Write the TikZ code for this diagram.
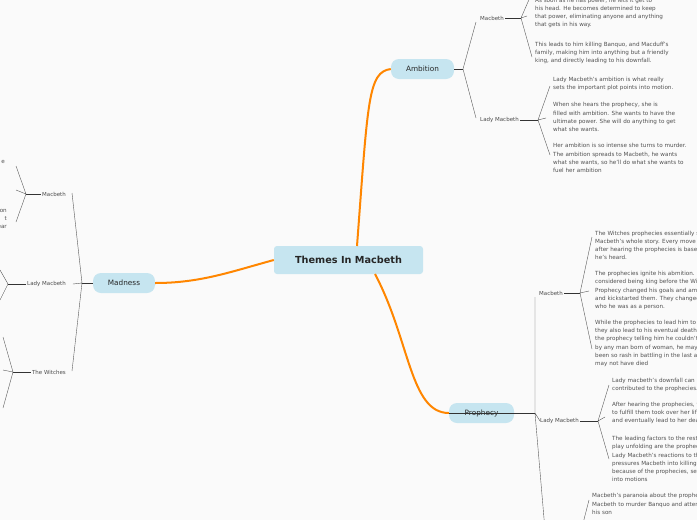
\documentclass[tikz,border=0pt]{standalone}
\usepackage{fontspec}
\setmainfont{DejaVu Sans}
\begin{document}
\begin{tikzpicture}[x=1pt,y=-1pt,
  topic/.style={fill=topicblue,rounded corners=8pt,minimum height=20pt,inner xsep=8pt,font=\fontsize{7.3}{8}\selectfont,text=black!85},
  sub/.style={font=\fontsize{5.5}{6}\selectfont,text=black!70,inner sep=1pt},
  txt/.style={font=\fontsize{5.65}{8.2}\selectfont,text=black!68,align=left,anchor=west,inner sep=0pt},
  br/.style={draw=black!65,line width=0.4pt},
  hb/.style={draw=black!80,line width=0.9pt},
  ora/.style={draw=orange!95!yellow,line width=2pt}]
\definecolor{topicblue}{HTML}{C6E5F0}
\fill[black!2] (0,0) rectangle (697,520);
\useasboundingbox (0,0) rectangle (697,520);
\node[fill=topicblue,rounded corners=3pt,minimum width=149pt,minimum height=28pt,font=\bfseries\fontsize{9.7}{10}\selectfont,text=black!85] (c) at (348.5,260) {Themes In Macbeth};
\node[topic,minimum width=63pt] (amb) at (422.5,69) {Ambition};
\node[topic,minimum width=62pt] (mad) at (124,283) {Madness};
\node[topic,minimum width=65pt] (pro) at (481.5,413) {Prophecy};
\draw[ora] (357,246) .. controls (368,100) and (368,72) .. (amb.west);
\draw[ora] (375,274) .. controls (410,340) and (410,413) .. (pro.west);
\draw[ora] (c.west) .. controls (230,272) and (200,283) .. (mad.east);

% Ambition
\coordinate (a0) at (463,69);
\draw[hb] (amb.east) -- (a0);
\node[sub,anchor=west] (am) at (479,18) {Macbeth};
\node[sub,anchor=west] (al) at (479,120) {Lady Macbeth};
\draw[br] (a0) -- (476,22) (a0) -- (476,118);
\coordinate (am0) at (521,18);
\coordinate (al0) at (538,120);
\draw[hb] (am.east) -- (am0); \draw[hb] (al.east) -- (al0);
\node[txt] (t1) at (535,13) {As soon as he has power, he lets it get to\\his head. He becomes determined to keep\\that power, eliminating anyone and anything\\that gets in his way.};
\node[txt] (t2) at (535,53) {This leads to him killing Banquo, and Macduff's\\family, making him into anything but a friendly\\king, and directly leading to his downfall.};
\draw[br] (am0) -- (531,-5) (am0) -- (527,16) (am0) -- (532,57);
\node[txt] (t3) at (553,84) {Lady Macbeth's ambition is what really\\sets the important plot points into motion.};
\node[txt] (t4) at (553,117) {When she hears the prophecy, she is\\filled with ambition. She wants to have the\\ultimate power. She will do anything to get\\what she wants.};
\node[txt] (t5) at (553,158) {Her ambition is so intense she turns to murder.\\The ambition spreads to Macbeth, he wants\\what she wants, so he'll do what she wants to\\fuel her ambition};
\draw[br] (al0) -- (550,86) (al0) -- (546,118) (al0) -- (550,155);

% Prophecy
\coordinate (p0) at (535,413);
\draw[hb] (pro.west) -- (p0);
\node[sub,anchor=west] (pm) at (538,293) {Macbeth};
\node[sub,anchor=west] (pl) at (539,421) {Lady Macbeth};
\coordinate (p3) at (545,530);
\draw[br] (p0) -- (535,297) (p0) -- (540,421) (p0) -- (p3);
\coordinate (pm0) at (580,293);
\coordinate (pl0) at (598,421);
\draw[hb] (pm.east) -- (pm0); \draw[hb] (pl.east) -- (pl0);
\node[txt] (u1) at (595,245.5) {The Witches prophecies essentially start\\Macbeth's whole story. Every move he makes\\after hearing the prophecies is based on what\\he's heard.};
\node[txt] (u2) at (595,290.5) {The prophecies ignite his abmition. He never\\considered being king before the Witches'\\Prophecy changed his goals and ambitions\\and kickstarted them. They changed\\who he was as a person.};
\node[txt] (u3) at (595,343.5) {While the prophecies to lead him to power,\\they also lead to his eventual death. Without\\the prophecy telling him he couldn't be killed\\by any man born of woman, he may not have\\been so rash in battling in the last act and\\may not have died};
\draw[br] (pm0) -- (592,237) (pm0) -- (589,291) (pm0) -- (592,349);
\node[txt] (v1) at (612,385) {Lady macbeth's downfall can be directly\\contributed to the prophecies.};
\node[txt] (v2) at (612,413) {After hearing the prophecies, the desire\\to fulfill them took over her life\\and eventually lead to her death.};
\node[txt] (v3) at (612,459) {The leading factors to the rest of the\\play unfolding are the prophecies and\\Lady Macbeth's reactions to them. She\\pressures Macbeth into killing Duncan\\because of the prophecies, setting things\\into motions};
\draw[br] (pl0) -- (609,385) (pl0) -- (605,417) (pl0) -- (609,459);
\node[txt] (w1) at (592,504) {Macbeth's paranoia about the prophecies lead\\Macbeth to murder Banquo and attempt to murder\\his son};
\coordinate (w0) at (580,535);
\draw[br] (w0) -- (589,500);

% Madness
\coordinate (m0) at (82,283);
\draw[hb] (mad.west) -- (m0);
\node[sub,anchor=east] (mm) at (67,194) {Macbeth};
\node[sub,anchor=east] (ml) at (67,284) {Lady Macbeth};
\node[sub,anchor=east] (mw) at (67,372) {The Witches};
\draw[br] (m0) -- (72,193) (m0) -- (73,284) (m0) -- (72,371);
\coordinate (mm0) at (26,194);
\coordinate (ml0) at (8,284);
\coordinate (mw0) at (13,372);
\draw[hb] (mm.west) -- (mm0); \draw[hb] (ml.west) -- (ml0); \draw[hb] (mw.west) -- (mw0);
\draw[br] (mm0) -- (16,166) (mm0) -- (16,190) (mm0) -- (16,222);
\node[txt,anchor=east] (f1) at (5,162) {e};
\node[txt,anchor=east,align=right] (f2) at (7,219) {on\\t\\ear};
\draw[br] (ml0) -- (0,270) (ml0) -- (0,300);
\draw[br] (mw0) -- (3,337) (mw0) -- (3,370) (mw0) -- (3,408);
\end{tikzpicture}
\end{document}
